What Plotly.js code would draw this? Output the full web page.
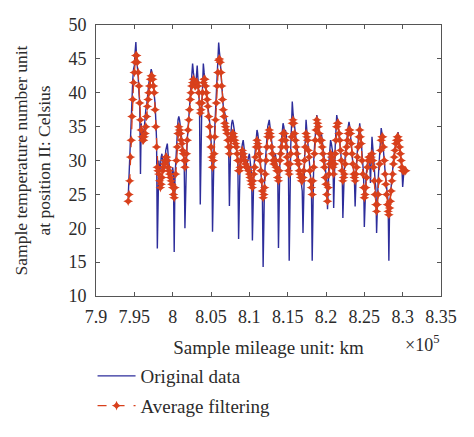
<!DOCTYPE html>
<html>
<head>
<meta charset="utf-8">
<script src="https://cdn.plot.ly/plotly-3.0.1.min.js"></script>
<style>
  html, body { margin: 0; padding: 0; background: #ffffff; }
  #chart { width: 474px; height: 437px; }
</style>
</head>
<body>
<div id="chart"></div>
<script>
// Sample mileage (units of 1e5 km), one sample every 100 km
const mileage = [
  7.942, 7.943, 7.944, 7.945, 7.946, 7.947, 7.948, 7.949, 7.950, 7.951,
  7.952, 7.953, 7.954, 7.955, 7.956, 7.957, 7.958, 7.959, 7.960, 7.961,
  7.962, 7.963, 7.964, 7.965, 7.966, 7.967, 7.968, 7.969, 7.970, 7.971,
  7.972, 7.973, 7.974, 7.975, 7.976, 7.977, 7.978, 7.979, 7.980, 7.981,
  7.982, 7.983, 7.984, 7.985, 7.986, 7.987, 7.988, 7.989, 7.990, 7.991,
  7.992, 7.993, 7.994, 7.995, 7.996, 7.997, 7.998, 7.999, 8.000, 8.001,
  8.002, 8.003, 8.004, 8.005, 8.006, 8.007, 8.008, 8.009, 8.010, 8.011,
  8.012, 8.013, 8.014, 8.015, 8.016, 8.017, 8.018, 8.019, 8.020, 8.021,
  8.022, 8.023, 8.024, 8.025, 8.026, 8.027, 8.028, 8.029, 8.030, 8.031,
  8.032, 8.033, 8.034, 8.035, 8.036, 8.037, 8.038, 8.039, 8.040, 8.041,
  8.042, 8.043, 8.044, 8.045, 8.046, 8.047, 8.048, 8.049, 8.050, 8.051,
  8.052, 8.053, 8.054, 8.055, 8.056, 8.057, 8.058, 8.059, 8.060, 8.061,
  8.062, 8.063, 8.064, 8.065, 8.066, 8.067, 8.068, 8.069, 8.070, 8.071,
  8.072, 8.073, 8.074, 8.075, 8.076, 8.077, 8.078, 8.079, 8.080, 8.081,
  8.082, 8.083, 8.084, 8.085, 8.086, 8.087, 8.088, 8.089, 8.090, 8.091,
  8.092, 8.093, 8.094, 8.095, 8.096, 8.097, 8.098, 8.099, 8.100, 8.101,
  8.102, 8.103, 8.104, 8.105, 8.106, 8.107, 8.108, 8.109, 8.110, 8.111,
  8.112, 8.113, 8.114, 8.115, 8.116, 8.117, 8.118, 8.119, 8.120, 8.121,
  8.122, 8.123, 8.124, 8.125, 8.126, 8.127, 8.128, 8.129, 8.130, 8.131,
  8.132, 8.133, 8.134, 8.135, 8.136, 8.137, 8.138, 8.139, 8.140, 8.141,
  8.142, 8.143, 8.144, 8.145, 8.146, 8.147, 8.148, 8.149, 8.150, 8.151,
  8.152, 8.153, 8.154, 8.155, 8.156, 8.157, 8.158, 8.159, 8.160, 8.161,
  8.162, 8.163, 8.164, 8.165, 8.166, 8.167, 8.168, 8.169, 8.170, 8.171,
  8.172, 8.173, 8.174, 8.175, 8.176, 8.177, 8.178, 8.179, 8.180, 8.181,
  8.182, 8.183, 8.184, 8.185, 8.186, 8.187, 8.188, 8.189, 8.190, 8.191,
  8.192, 8.193, 8.194, 8.195, 8.196, 8.197, 8.198, 8.199, 8.200, 8.201,
  8.202, 8.203, 8.204, 8.205, 8.206, 8.207, 8.208, 8.209, 8.210, 8.211,
  8.212, 8.213, 8.214, 8.215, 8.216, 8.217, 8.218, 8.219, 8.220, 8.221,
  8.222, 8.223, 8.224, 8.225, 8.226, 8.227, 8.228, 8.229, 8.230, 8.231,
  8.232, 8.233, 8.234, 8.235, 8.236, 8.237, 8.238, 8.239, 8.240, 8.241,
  8.242, 8.243, 8.244, 8.245, 8.246, 8.247, 8.248, 8.249, 8.250, 8.251,
  8.252, 8.253, 8.254, 8.255, 8.256, 8.257, 8.258, 8.259, 8.260, 8.261,
  8.262, 8.263, 8.264, 8.265, 8.266, 8.267, 8.268, 8.269, 8.270, 8.271,
  8.272, 8.273, 8.274, 8.275, 8.276, 8.277, 8.278, 8.279, 8.280, 8.281,
  8.282, 8.283, 8.284, 8.285, 8.286, 8.287, 8.288, 8.289, 8.290, 8.291,
  8.292, 8.293, 8.294, 8.295, 8.296, 8.297, 8.298, 8.299, 8.300, 8.301,
  8.302, 8.303, 8.304
];

// Measured temperature at position II (Celsius)
const originalData = [
  24.5, 27.5, 30.0, 35.0, 38.0, 41.0, 42.0, 43.5, 44.0, 46.0,
  47.5, 45.0, 44.0, 42.5, 40.0, 38.5, 28.0, 35.5, 34.0, 34.5,
  33.5, 35.0, 36.0, 37.5, 38.0, 39.5, 40.5, 41.5, 42.0, 42.5,
  43.5, 43.0, 42.0, 41.5, 40.0, 38.5, 36.0, 33.0, 17.0, 29.0,
  30.0, 28.5, 29.0, 30.5, 31.0, 30.0, 29.0, 29.5, 30.0, 31.5,
  32.0, 32.5, 31.0, 29.5, 28.0, 27.5, 27.0, 28.0, 29.0, 28.0,
  16.5, 27.5, 30.0, 32.0, 34.0, 36.0, 36.5, 36.0, 35.0, 34.0,
  33.0, 32.0, 31.0, 30.0, 20.0, 29.0, 30.0, 33.0, 35.0, 36.5,
  38.0, 39.5, 41.0, 43.0, 44.3, 43.0, 42.0, 41.5, 41.0, 42.5,
  44.0, 42.0, 40.0, 38.0, 23.5, 36.5, 38.0, 41.0, 44.3, 43.0,
  42.0, 41.5, 40.5, 39.0, 38.0, 37.0, 36.0, 34.5, 33.0, 31.5,
  19.5, 30.5, 32.0, 35.0, 38.0, 40.5, 43.0, 45.0, 47.4, 46.0,
  45.0, 43.0, 41.0, 39.0, 38.0, 37.5, 37.0, 36.5, 36.0, 34.5,
  33.0, 32.0, 23.3, 33.0, 34.0, 35.5, 36.0, 35.5, 35.0, 34.0,
  33.0, 32.0, 31.0, 30.0, 18.4, 29.0, 30.0, 31.0, 32.0, 32.5,
  33.0, 32.0, 31.0, 30.0, 29.0, 29.5, 30.0, 30.5, 31.0, 30.0,
  29.0, 28.0, 18.2, 27.5, 29.0, 30.5, 32.0, 33.5, 34.5, 34.0,
  33.0, 32.0, 31.0, 28.5, 26.0, 25.0, 14.3, 25.5, 28.0, 30.0,
  32.0, 33.5, 35.0, 35.5, 36.0, 35.0, 34.0, 33.0, 32.0, 31.0,
  30.0, 30.5, 31.0, 30.0, 29.0, 28.5, 17.1, 29.5, 31.0, 32.0,
  33.0, 34.0, 35.5, 35.0, 34.0, 34.5, 34.0, 32.0, 30.0, 29.0,
  15.2, 30.0, 32.0, 35.0, 38.7, 37.0, 36.0, 35.0, 34.0, 33.0,
  32.0, 31.0, 30.0, 29.0, 28.0, 27.0, 26.0, 25.5, 19.3, 28.0,
  30.0, 33.0, 36.0, 34.5, 33.0, 32.0, 31.0, 29.0, 27.0, 26.0,
  15.2, 27.5, 30.0, 32.0, 34.0, 35.5, 36.7, 36.0, 35.0, 34.0,
  33.0, 33.5, 34.0, 33.0, 32.0, 31.0, 30.0, 29.0, 28.0, 27.0,
  22.8, 28.0, 30.0, 31.5, 33.0, 32.5, 32.0, 31.0, 23.0, 31.0,
  32.0, 34.5, 36.7, 36.0, 35.0, 34.0, 33.0, 31.5, 30.0, 29.0,
  21.5, 28.0, 29.0, 30.5, 32.0, 33.0, 34.0, 35.0, 35.7, 35.0,
  34.0, 32.5, 31.0, 29.5, 28.0, 27.5, 23.2, 28.5, 30.0, 31.5,
  33.0, 34.5, 35.5, 34.0, 33.0, 31.0, 29.0, 28.0, 20.2, 26.0,
  27.0, 28.5, 30.0, 30.5, 31.0, 30.0, 26.7, 31.5, 33.5, 32.0,
  31.0, 29.0, 27.0, 26.0, 19.3, 25.5, 27.0, 29.0, 31.0, 33.0,
  34.8, 34.0, 33.0, 31.5, 30.0, 28.5, 27.0, 26.0, 25.0, 24.0,
  15.2, 23.5, 25.0, 26.5, 28.0, 29.0, 30.0, 31.0, 32.0, 32.5,
  33.0, 33.5, 34.2, 33.0, 32.0, 31.0, 30.0, 29.0, 26.1, 28.5,
  29.0, 28.5, 28.5
];

// Same signal after average filtering
const averageFiltering = [
  24.0, 25.0, 27.0, 30.5, 33.0, 36.5, 39.0, 41.5, 43.0, 44.5,
  45.5, 45.5, 44.5, 43.0, 41.0, 38.5, 36.0, 34.5, 33.5, 33.0,
  33.0, 33.5, 34.0, 35.0, 36.5, 38.0, 39.0, 40.0, 41.0, 42.0,
  42.5, 42.5, 42.0, 41.0, 40.0, 37.5, 35.0, 32.0, 29.0, 28.5,
  28.0, 27.0, 26.0, 26.5, 27.5, 28.5, 29.0, 29.5, 30.0, 30.5,
  30.5, 30.0, 29.0, 28.5, 28.0, 27.5, 27.0, 26.5, 26.0, 25.0,
  24.5, 26.0, 28.0, 30.0, 32.0, 34.0, 35.0, 34.5, 34.0, 33.0,
  32.5, 31.5, 31.0, 30.0, 29.0, 30.0, 31.0, 33.0, 34.5, 36.0,
  37.5, 39.0, 40.0, 41.0, 41.5, 42.0, 41.5, 41.0, 41.0, 41.5,
  41.5, 41.0, 40.0, 38.5, 37.0, 37.5, 38.5, 40.0, 41.5, 42.0,
  42.0, 41.0, 40.0, 39.0, 38.0, 36.5, 35.0, 33.5, 32.0, 30.5,
  29.0, 30.0, 31.0, 33.5, 36.0, 38.5, 41.0, 43.0, 44.8, 45.0,
  44.5, 43.0, 41.0, 39.0, 37.5, 36.5, 35.5, 35.0, 34.5, 34.0,
  33.0, 32.0, 31.0, 32.0, 33.0, 33.5, 34.0, 34.0, 33.5, 33.0,
  32.5, 32.0, 31.0, 30.0, 28.5, 28.5, 29.0, 30.0, 31.0, 31.5,
  31.0, 30.5, 30.0, 29.5, 29.0, 29.0, 29.0, 28.5, 28.0, 27.5,
  27.0, 26.5, 26.0, 27.0, 28.0, 29.0, 30.5, 32.0, 33.0, 32.5,
  32.0, 31.0, 30.0, 28.5, 27.0, 25.5, 24.5, 25.0, 26.0, 28.0,
  30.0, 32.0, 33.5, 34.0, 34.5, 34.0, 33.5, 32.0, 31.0, 30.0,
  29.5, 30.0, 30.0, 29.0, 28.5, 27.5, 27.0, 28.5, 30.0, 31.0,
  32.0, 33.0, 34.0, 34.0, 34.0, 33.0, 32.0, 30.5, 29.5, 28.5,
  28.0, 29.5, 31.0, 33.5, 35.5, 36.0, 35.5, 34.0, 33.0, 32.0,
  31.0, 30.0, 29.5, 28.5, 28.0, 27.5, 27.0, 27.0, 27.5, 28.5,
  30.0, 32.0, 34.0, 33.5, 33.0, 31.5, 30.5, 28.5, 27.0, 26.0,
  25.0, 27.0, 29.0, 31.0, 33.0, 34.5, 36.0, 35.5, 35.0, 34.0,
  33.0, 33.0, 33.0, 32.0, 31.0, 30.0, 29.0, 27.5, 26.5, 25.0,
  24.0, 26.0, 28.0, 29.5, 31.0, 30.5, 30.0, 29.0, 28.0, 29.5,
  31.0, 33.0, 35.0, 35.5, 35.5, 34.0, 33.0, 31.5, 30.0, 28.5,
  27.0, 27.5, 28.0, 29.5, 31.0, 32.0, 33.0, 34.0, 34.5, 34.5,
  34.0, 32.5, 31.0, 29.5, 28.0, 27.5, 27.0, 28.0, 29.0, 30.5,
  32.0, 33.5, 34.5, 33.5, 32.5, 30.0, 28.0, 26.0, 24.5, 25.0,
  26.0, 27.5, 29.0, 30.0, 30.5, 30.5, 30.0, 30.5, 31.0, 30.0,
  29.0, 27.0, 25.0, 23.5, 22.5, 23.5, 25.0, 27.0, 29.5, 31.5,
  33.0, 33.5, 33.5, 32.0, 30.0, 28.0, 26.5, 25.0, 23.5, 22.5,
  22.0, 23.0, 24.0, 25.5, 27.0, 28.0, 29.5, 30.5, 31.5, 32.5,
  33.0, 33.5, 33.5, 33.0, 32.0, 31.0, 30.0, 29.0, 28.5, 28.5,
  28.5, 28.5, 28.5
];

const xTicks = [7.9, 7.95, 8, 8.05, 8.1, 8.15, 8.2, 8.25, 8.3, 8.35];
const xTickText = ['7.9', '7.95', '8', '8.05', '8.1', '8.15', '8.2', '8.25', '8.3', '8.35'];
const yTicks = [10, 15, 20, 25, 30, 35, 40, 45, 50];

const serif = '"Liberation Serif", "DejaVu Serif", serif';
const inkColor = '#2b2b2b';

const traces = [
  {
    x: mileage,
    y: originalData,
    type: 'scatter',
    mode: 'lines',
    name: 'Original data',
    legendgroup: 'orig',
    line: { color: '#2d2d9b', width: 1.4 }
  },
  {
    x: mileage,
    y: averageFiltering,
    type: 'scatter',
    mode: 'lines+markers',
    name: 'Average filtering',
    legendgroup: 'avg',
    line: { color: '#d8401c', width: 1.3, dash: 'dash' },
    marker: { symbol: 'star-diamond', size: 7, color: '#d8401c', line: { width: 0 } }
  }
];

const axisCommon = {
  showgrid: false,
  zeroline: false,
  showline: true,
  linecolor: '#555555',
  linewidth: 1,
  mirror: 'ticks',
  ticks: 'inside',
  ticklen: 4,
  tickwidth: 1,
  tickcolor: '#555555',
  tickfont: { family: serif, size: 18, color: inkColor }
};

const layout = {
  width: 474,
  height: 437,
  margin: { l: 96, r: 33, t: 25, b: 141 },
  paper_bgcolor: '#ffffff',
  plot_bgcolor: '#ffffff',
  font: { family: serif, color: inkColor },
  showlegend: true,
  legend: {
    x: -0.01,
    y: -0.476,
    xanchor: 'left',
    yanchor: 'bottom',
    itemwidth: 38,
    font: { family: serif, size: 19, color: inkColor },
    tracegroupgap: 2,
    bgcolor: 'rgba(0,0,0,0)'
  },
  xaxis: Object.assign({}, axisCommon, {
    range: [7.9, 8.35],
    tickvals: xTicks,
    ticktext: xTickText,
    ticklabelstandoff: 4,
    title: { text: 'Sample mileage unit: km', font: { family: serif, size: 19, color: inkColor }, standoff: 15 }
  }),
  yaxis: Object.assign({}, axisCommon, {
    range: [10, 50],
    tickvals: yTicks,
    ticklabelstandoff: 5,
    title: {
      text: 'Sample temperature number unit<br>at position II: Celsius',
      font: { family: serif, size: 17.5, color: inkColor },
      standoff: 13
    }
  }),
  annotations: [
    {
      xref: 'paper', yref: 'paper',
      x: 1.0, y: -0.175,
      xanchor: 'right', yanchor: 'middle',
      text: '×10<sup>5</sup>',
      showarrow: false,
      font: { family: serif, size: 18, color: inkColor }
    }
  ]
};

Plotly.newPlot('chart', traces, layout, { displayModeBar: false, staticPlot: true });
</script>
</body>
</html>
